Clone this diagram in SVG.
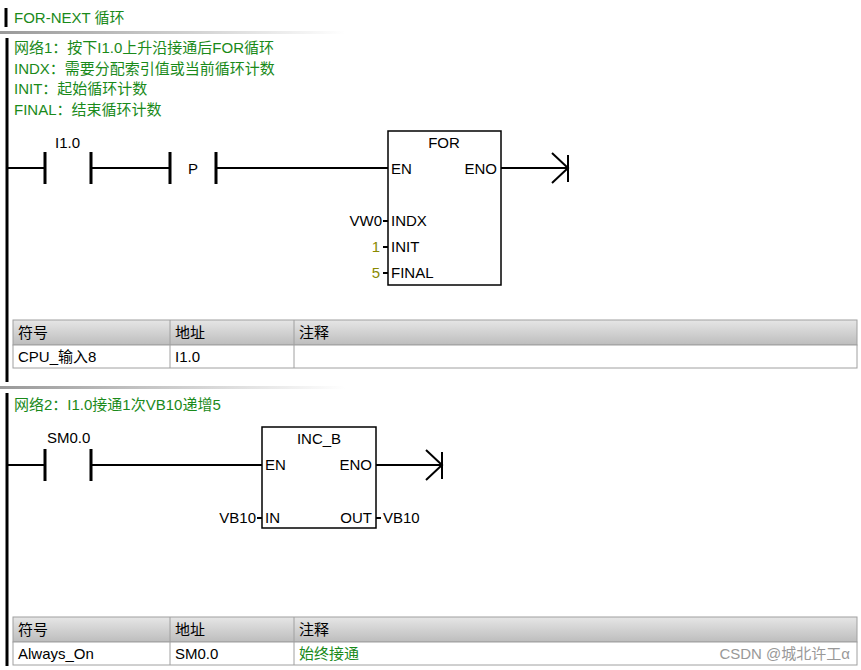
<svg xmlns="http://www.w3.org/2000/svg" width="861" height="670" viewBox="0 0 861 670">
<defs>
<linearGradient id="hdr" x1="0" y1="0" x2="0" y2="1"><stop offset="0" stop-color="#e6e6e6"/><stop offset="1" stop-color="#bdbdbd"/></linearGradient>
<linearGradient id="sep" x1="0" y1="0" x2="1" y2="0"><stop offset="0" stop-color="#999"/><stop offset="1" stop-color="#fff"/></linearGradient>
</defs>
<style>
text{font-family:"Liberation Sans","Noto Sans CJK SC",sans-serif;font-size:15px;fill:#000}
.g{fill:#1a8a1a}
.o{fill:#8a8a00}
.w{stroke:#000;stroke-width:2;fill:none}
.b{stroke:#000;stroke-width:1.5;fill:#fff}
.c{stroke:#000;stroke-width:3}
.t{stroke:#a0a0a0;stroke-width:1;fill:#fff}
</style>
<rect width="861" height="670" fill="#fff"/>
<g id="title"><line x1="6" y1="8" x2="6" y2="27" class="c"/><text x="14" y="23" class="g">FOR-NEXT 循环</text>
<rect x="0" y="31" width="345" height="3" fill="url(#sep)"/></g>
<g id="net1">
<line x1="7" y1="38" x2="7" y2="382" class="c"/>
<text x="14" y="53" class="g">网络1：按下I1.0上升沿接通后FOR循环</text>
<text x="14" y="74" class="g">INDX：需要分配索引值或当前循环计数</text>
<text x="14" y="94" class="g">INIT：起始循环计数</text>
<text x="14" y="115" class="g">FINAL：结束循环计数</text>
</g>
<g id="connectors">
<path class="w" d="M7 168H45M91 168H170M216 168H388M501 168H568M552 153L568 168L552 183"/>
<path class="w" d="M383 221H388M383 247H388M383 273H388"/>
<path class="w" d="M7 465H45M91 465H262M376 465H442M426 450L442 465L426 480"/>
<path class="w" d="M257 518H262M376 518H381"/>
</g>
<g id="contact1"><path class="c" d="M45 152V184M91 152V184"/><text x="55" y="148">I1.0</text></g>
<g id="contactP"><path class="c" d="M170 152V184M216 152V184"/><text x="188" y="174">P</text></g>
<g id="for">
<rect x="388" y="131" width="113" height="154" class="b"/>
<text x="444" y="148" text-anchor="middle">FOR</text>
<text x="391" y="174">EN</text><text x="497" y="174" text-anchor="end">ENO</text>
<text x="391" y="226">INDX</text><text x="391" y="252">INIT</text><text x="391" y="278">FINAL</text>
<text x="382" y="226" text-anchor="end">VW0</text>
<text x="380" y="252" text-anchor="end" class="o">1</text>
<text x="380" y="278" text-anchor="end" class="o">5</text>
<line x1="568" y1="155" x2="568" y2="182" class="w"/>
</g>
<g id="table1">
<rect x="13" y="320" width="844" height="25" fill="url(#hdr)" stroke="#a0a0a0"/>
<rect x="13" y="345" width="844" height="23" class="t"/>
<path d="M170 320V368M294 320V368" stroke="#a0a0a0"/>
<text x="18" y="338">符号</text><text x="175" y="338">地址</text><text x="299" y="338">注释</text>
<text x="18" y="362">CPU_输入8</text><text x="175" y="362">I1.0</text>
</g>
<rect x="0" y="386" width="345" height="3" fill="url(#sep)"/>
<g id="net2">
<line x1="7" y1="393" x2="7" y2="666" class="c"/>
<text x="14" y="410" class="g">网络2：I1.0接通1次VB10递增5</text>
</g>
<g id="contact2"><path class="c" d="M45 449V481M91 449V481"/><text x="47" y="443">SM0.0</text></g>
<g id="incb">
<rect x="262" y="427" width="114" height="101" class="b"/>
<text x="319" y="444" text-anchor="middle">INC_B</text>
<text x="265" y="470">EN</text><text x="372" y="470" text-anchor="end">ENO</text>
<text x="265" y="523">IN</text><text x="372" y="523" text-anchor="end">OUT</text>
<text x="256" y="523" text-anchor="end">VB10</text><text x="383" y="523">VB10</text>
<line x1="442" y1="452" x2="442" y2="479" class="w"/>
</g>
<g id="table2">
<rect x="13" y="617" width="844" height="25" fill="url(#hdr)" stroke="#a0a0a0"/>
<rect x="13" y="642" width="844" height="23" class="t"/>
<path d="M170 617V665M294 617V665" stroke="#a0a0a0"/>
<text x="18" y="635">符号</text><text x="175" y="635">地址</text><text x="299" y="635">注释</text>
<text x="18" y="659">Always_On</text><text x="175" y="659">SM0.0</text><text x="299" y="659" class="g">始终接通</text>
<text x="850" y="659" text-anchor="end" style="fill:#999">CSDN @城北许工α</text>
</g>
</svg>
